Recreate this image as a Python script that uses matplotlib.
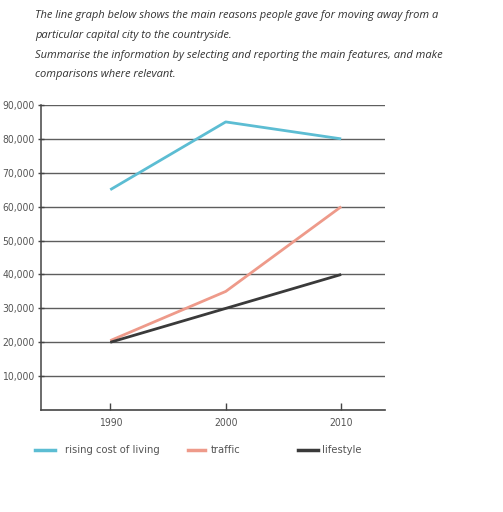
import matplotlib
matplotlib.use("Agg")
import matplotlib.pyplot as plt
from matplotlib.lines import Line2D
from matplotlib import font_manager as fm

years = [1990, 2000, 2010]
rising_cost = [65000, 85000, 80000]
traffic = [20500, 35000, 60000]
lifestyle = [20000, 30000, 40000]
series_names = ["rising cost of living", "traffic", "lifestyle"]
y_ticks = [10000, 20000, 30000, 40000, 50000, 60000, 70000, 80000, 90000]
y_tick_labels = ["10,000", "20,000", "30,000", "40,000", "50,000", "60,000", "70,000", "80,000", "90,000"]

colors = ["#5cbdd3", "#ee9a8a", "#3a3a3a"]
cond = fm.FontProperties(family="DejaVu Sans", stretch="condensed", size=7.5)

fig = plt.figure(figsize=(5.03, 5.12), dpi=100)
fig.patch.set_facecolor("white")
ax = fig.add_axes([0.0815, 0.199, 0.684, 0.596])

title = ("The line graph below shows the main reasons people gave for moving away from a\n"
         "particular capital city to the countryside.\n"
         "Summarise the information by selecting and reporting the main features, and make\n"
         "comparisons where relevant.")
fig.text(0.070, 0.980, title, ha="left", va="top", fontsize=8.0, style="italic",
         color="#333333", family=["Open Sans", "DejaVu Sans"], linespacing=2.08)

for yv in y_ticks:
    ax.axhline(yv, color="#5e5e5e", lw=1.0, zorder=1)

for vals, c in zip([rising_cost, traffic, lifestyle], colors):
    ax.plot(years, vals, color=c, lw=2.0, zorder=3, solid_capstyle="butt")

ax.set_xlim(1984.0, 2013.8)
ax.set_ylim(0, 90000)
ax.set_yticks(y_ticks)
ax.set_yticklabels(y_tick_labels, fontproperties=cond, color="#555555")
ax.set_xticks(years)
ax.set_xticklabels([str(y) for y in years], fontproperties=cond, color="#555555")
ax.tick_params(axis="y", direction="inout", length=5, width=1, color="#444444", pad=2)
ax.tick_params(axis="x", direction="in", length=5, width=1, color="#444444", pad=6)
for s in ["top", "right"]:
    ax.spines[s].set_visible(False)
ax.spines["left"].set_color("#444444")
ax.spines["bottom"].set_color("#444444")
ax.spines["left"].set_linewidth(1.1)
ax.spines["bottom"].set_linewidth(1.2)

# legend
leg_y = 1 - 450 / 512
seg = [(35, 55, 65), (188, 205, 211), (298, 318, 322)]
lcond = fm.FontProperties(family="DejaVu Sans", stretch="condensed", size=8.0)
for (x0, x1, xt), c, name in zip(seg, colors, series_names):
    fig.add_artist(Line2D([x0 / 503, x1 / 503], [leg_y, leg_y], color=c, lw=2.5,
                          transform=fig.transFigure))
    fig.text(xt / 503, leg_y, name, ha="left", va="center",
             color="#555555", fontproperties=lcond)

fig.savefig("out.png", dpi=100, facecolor="white")
